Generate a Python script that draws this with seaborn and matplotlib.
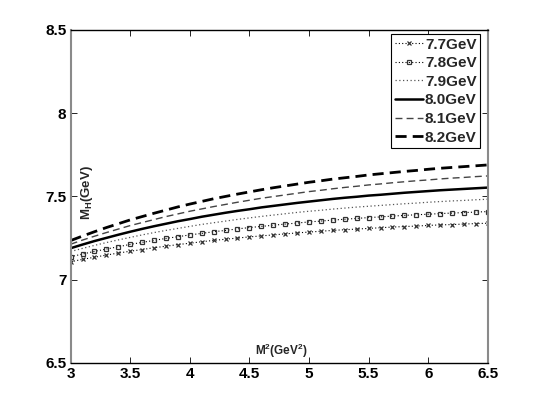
import numpy as np
import pandas as pd
import matplotlib
matplotlib.use('Agg')
import matplotlib.pyplot as plt
import seaborn as sns

# x values (M^2 in GeV^2)
m2 = [3.0, 3.1, 3.2, 3.3, 3.4, 3.5, 3.6, 3.7, 3.8, 3.9,
      4.0, 4.1, 4.2, 4.3, 4.4, 4.5, 4.6, 4.7, 4.8, 4.9,
      5.0, 5.1, 5.2, 5.3, 5.4, 5.5, 5.6, 5.7, 5.8, 5.9,
      6.0, 6.1, 6.2, 6.3, 6.4, 6.5]

# M_H (GeV) for each threshold
mh_77 = [7.108, 7.122, 7.135, 7.148, 7.160, 7.171, 7.181, 7.192, 7.201, 7.211,
         7.219, 7.228, 7.236, 7.243, 7.250, 7.257, 7.263, 7.269, 7.275, 7.281,
         7.286, 7.291, 7.296, 7.300, 7.304, 7.308, 7.312, 7.316, 7.319, 7.322,
         7.326, 7.329, 7.331, 7.334, 7.337, 7.339]
mh_78 = [7.138, 7.154, 7.170, 7.184, 7.198, 7.212, 7.224, 7.236, 7.248, 7.258,
         7.269, 7.278, 7.288, 7.296, 7.305, 7.313, 7.320, 7.327, 7.334, 7.340,
         7.347, 7.352, 7.358, 7.363, 7.368, 7.373, 7.377, 7.382, 7.386, 7.390,
         7.393, 7.397, 7.400, 7.403, 7.406, 7.409]
mh_79 = [7.169, 7.188, 7.206, 7.223, 7.239, 7.254, 7.269, 7.283, 7.296, 7.308,
         7.320, 7.332, 7.342, 7.352, 7.362, 7.371, 7.380, 7.388, 7.396, 7.404,
         7.411, 7.417, 7.424, 7.430, 7.436, 7.441, 7.446, 7.451, 7.456, 7.460,
         7.465, 7.469, 7.473, 7.476, 7.480, 7.483]
mh_80 = [7.189, 7.211, 7.232, 7.251, 7.270, 7.288, 7.305, 7.321, 7.336, 7.351,
         7.364, 7.378, 7.390, 7.402, 7.413, 7.423, 7.434, 7.443, 7.452, 7.461,
         7.469, 7.477, 7.485, 7.492, 7.498, 7.505, 7.510, 7.516, 7.522, 7.527,
         7.532, 7.537, 7.541, 7.545, 7.549, 7.553]
mh_81 = [7.213, 7.238, 7.261, 7.283, 7.304, 7.325, 7.343, 7.361, 7.379, 7.395,
         7.411, 7.425, 7.439, 7.452, 7.465, 7.477, 7.489, 7.499, 7.509, 7.519,
         7.529, 7.537, 7.546, 7.554, 7.561, 7.569, 7.575, 7.582, 7.588, 7.594,
         7.599, 7.605, 7.610, 7.614, 7.619, 7.623]
mh_82 = [7.235, 7.262, 7.288, 7.313, 7.336, 7.359, 7.379, 7.399, 7.418, 7.437,
         7.454, 7.470, 7.486, 7.500, 7.514, 7.527, 7.540, 7.552, 7.563, 7.574,
         7.585, 7.594, 7.604, 7.612, 7.620, 7.629, 7.636, 7.643, 7.650, 7.656,
         7.663, 7.669, 7.674, 7.679, 7.684, 7.689]

labels = ['7.7GeV', '7.8GeV', '7.9GeV', '8.0GeV', '8.1GeV', '8.2GeV']
series = [mh_77, mh_78, mh_79, mh_80, mh_81, mh_82]

x_ticks = [3, 3.5, 4, 4.5, 5, 5.5, 6, 6.5]
x_ticklabels = ['3', '3.5', '4', '4.5', '5', '5.5', '6', '6.5']
y_ticks = [6.5, 7, 7.5, 8, 8.5]
y_ticklabels = ['6.5', '7', '7.5', '8', '8.5']

# line styles per curve
styles = [
    dict(color='black', linestyle=(0, (1, 2)), linewidth=0.8, marker='x',
         markersize=3.5, markeredgecolor='#333333', markeredgewidth=0.9),
    dict(color='black', linestyle=(0, (1, 2)), linewidth=0.8, marker='s',
         markersize=3, markerfacecolor='none', markeredgecolor='#333333',
         markeredgewidth=0.9),
    dict(color='#555555', linestyle=(0, (1, 2)), linewidth=0.9),
    dict(color='black', linestyle='-', linewidth=1.8),
    dict(color='#444444', linestyle=(0, (5, 3)), linewidth=1.0),
    dict(color='black', linestyle=(0, (4, 2.2)), linewidth=2.0),
]

sns.set_style('ticks')
plt.rcParams['font.family'] = ['Liberation Sans', 'DejaVu Sans']
plt.rcParams['mathtext.fontset'] = 'custom'
plt.rcParams['mathtext.rm'] = 'Liberation Sans:bold'
plt.rcParams['mathtext.it'] = 'Liberation Sans:bold'

fig = plt.figure(figsize=(5.39, 4.09), dpi=100)
ax = fig.add_axes([0.131, 0.1125, 0.774, 0.8145])

for vals, lab, st in zip(series, labels, styles):
    df = pd.DataFrame({'m2': m2, 'mh': vals})
    sns.lineplot(data=df, x='m2', y='mh', ax=ax, label=lab, **st)

ax.set_xlim(3, 6.5)
ax.set_ylim(6.5, 8.5)
ax.set_xticks(x_ticks)
ax.set_xticklabels(x_ticklabels, fontsize=11, fontweight='bold')
ax.set_yticks(y_ticks)
ax.set_yticklabels(y_ticklabels, fontsize=11, fontweight='bold')
ax.tick_params(direction='in', length=4, width=0.6, top=True, right=True,
               colors='black', pad=3)

for side in ['top', 'bottom']:
    ax.spines[side].set_color('black')
    ax.spines[side].set_linewidth(1.0)
for side in ['left', 'right']:
    ax.spines[side].set_visible(True)
    ax.spines[side].set_color('#8a8a8a')
    ax.spines[side].set_linewidth(1.5)

ax.set_xlabel(r'M$^2$(GeV$^2$)', fontsize=8.5, fontweight='bold', va='bottom')
ax.xaxis.set_label_coords(0.504, 0.008)
ax.set_ylabel(r'M$_H$(GeV)', fontsize=9.5, fontweight='bold', va='bottom')
ax.yaxis.set_label_coords(0.058, 0.513)

leg = ax.legend(loc='upper right', bbox_to_anchor=(0.9825, 0.988),
                borderaxespad=0, fancybox=False, framealpha=1,
                edgecolor='black', handlelength=1.8, handletextpad=0.15,
                labelspacing=0.3, borderpad=0.25,
                prop={'size': 11, 'weight': 'bold'})
leg.get_frame().set_linewidth(0.8)

fig.savefig('out.png', dpi=100)
